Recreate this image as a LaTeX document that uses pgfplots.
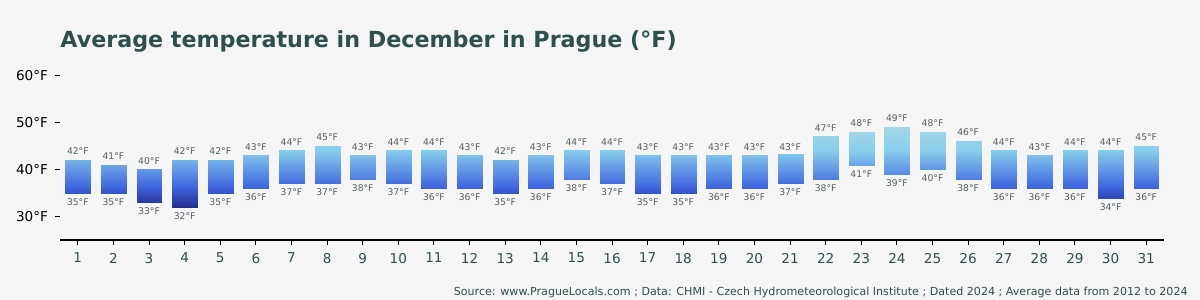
\documentclass[border=0pt]{standalone}
\usepackage{pgfplots}
\pgfplotsset{compat=1.18}
\usepackage{fontspec}
\setmainfont{DejaVu Sans}
\definecolor{bg}{RGB}{245,245,245}
\definecolor{titlec}{RGB}{47,79,79}
\definecolor{labc}{RGB}{85,95,95}
\begin{document}
\begin{tikzpicture}
\fill[bg] (0,0) rectangle (600pt,150pt);
\useasboundingbox (0,0) rectangle (600pt,150pt);
\begin{axis}[
  at={(30pt,30pt)}, anchor=south west,
  scale only axis, width=552pt, height=94.25pt,
  xmin=0.5, xmax=31.5, ymin=25, ymax=65,
  axis x line*=bottom, axis y line*=left,
  y axis line style={draw=none},
  x axis line style={line width=0.6pt},
  tick align=outside, major tick length=2.5pt,
  tick style={black, line width=0.5pt},
  xtick={1,...,31}, ytick={30,40,50,60},
  /pgf/number format/assume math mode=true,
  yticklabel={\pgfmathprintnumber{\tick}°F},
  y tick label style={font=\fontsize{6.8}{8}\selectfont, black},
  x tick label style={font=\fontsize{6.8}{8}\selectfont, text=titlec, yshift=-0.5pt},
  colormap={temp}{rgb255(64)=(35,45,140) rgb255(68)=(50,70,180) rgb255(73)=(65,105,225) rgb255(88)=(135,206,235) rgb255(98)=(165,215,232)},
  point meta min=32, point meta max=49,
  clip=false,
]
\addplot[patch, patch type=rectangle, shader=interp, point meta=y] coordinates {
(0.65,35) (1.35,35) (1.35,42) (0.65,42)
(1.65,35) (2.35,35) (2.35,41) (1.65,41)
(2.65,33) (3.35,33) (3.35,40) (2.65,40)
(3.65,32) (4.35,32) (4.35,42) (3.65,42)
(4.65,35) (5.35,35) (5.35,42) (4.65,42)
(5.65,36) (6.35,36) (6.35,43) (5.65,43)
(6.65,37) (7.35,37) (7.35,44) (6.65,44)
(7.65,37) (8.35,37) (8.35,45) (7.65,45)
(8.65,38) (9.35,38) (9.35,43) (8.65,43)
(9.65,37) (10.35,37) (10.35,44) (9.65,44)
(10.65,36) (11.35,36) (11.35,44) (10.65,44)
(11.65,36) (12.35,36) (12.35,43) (11.65,43)
(12.65,35) (13.35,35) (13.35,42) (12.65,42)
(13.65,36) (14.35,36) (14.35,43) (13.65,43)
(14.65,38) (15.35,38) (15.35,44) (14.65,44)
(15.65,37) (16.35,37) (16.35,44) (15.65,44)
(16.65,35) (17.35,35) (17.35,43) (16.65,43)
(17.65,35) (18.35,35) (18.35,43) (17.65,43)
(18.65,36) (19.35,36) (19.35,43) (18.65,43)
(19.65,36) (20.35,36) (20.35,43) (19.65,43)
(20.65,37) (21.35,37) (21.35,43.3) (20.65,43.3)
(21.65,38) (22.35,38) (22.35,47) (21.65,47)
(22.65,41) (23.35,41) (23.35,48) (22.65,48)
(23.65,39) (24.35,39) (24.35,49) (23.65,49)
(24.65,40) (25.35,40) (25.35,48) (24.65,48)
(25.65,38) (26.35,38) (26.35,46) (25.65,46)
(26.65,36) (27.35,36) (27.35,44) (26.65,44)
(27.65,36) (28.35,36) (28.35,43) (27.65,43)
(28.65,36) (29.35,36) (29.35,44) (28.65,44)
(29.65,34) (30.35,34) (30.35,44) (29.65,44)
(30.65,36) (31.35,36) (31.35,45) (30.65,45)
};
\addplot[only marks, mark=none, point meta=explicit,
  nodes near coords={\pgfmathprintnumber{\pgfplotspointmeta}°F},
  every node near coord/.style={font=\fontsize{4.6}{5}\selectfont, text=labc, anchor=south, inner sep=0pt, yshift=2.3pt}]
  table[x=d, y=hi, meta=hi] {
d hi
1 42
2 41
3 40
4 42
5 42
6 43
7 44
8 45
9 43
10 44
11 44
12 43
13 42
14 43
15 44
16 44
17 43
18 43
19 43
20 43
21 43
22 47
23 48
24 49
25 48
26 46
27 44
28 43
29 44
30 44
31 45
};
\addplot[only marks, mark=none, point meta=explicit,
  nodes near coords={\pgfmathprintnumber{\pgfplotspointmeta}°F},
  every node near coord/.style={font=\fontsize{4.6}{5}\selectfont, text=labc, anchor=north, inner sep=0pt, yshift=-2.6pt}]
  table[x=d, y=lo, meta=lo] {
d lo
1 35
2 35
3 33
4 32
5 35
6 36
7 37
8 37
9 38
10 37
11 36
12 36
13 35
14 36
15 38
16 37
17 35
18 35
19 36
20 36
21 37
22 38
23 41
24 39
25 40
26 38
27 36
28 36
29 36
30 34
31 36
};
\end{axis}
\node[anchor=base west, inner sep=0pt, text=titlec, font=\fontsize{11.1}{13}\selectfont\bfseries] at (30pt,126pt) {Average temperature in December in Prague (°F)};
\node[anchor=base east, inner sep=0pt, text=titlec, font=\fontsize{5.55}{6}\selectfont] at (594pt,2pt) {Source: www.PragueLocals.com ; Data: CHMI - Czech Hydrometeorological Institute ; Dated 2024 ; Average data from 2012 to 2024};
\end{tikzpicture}
\end{document}
